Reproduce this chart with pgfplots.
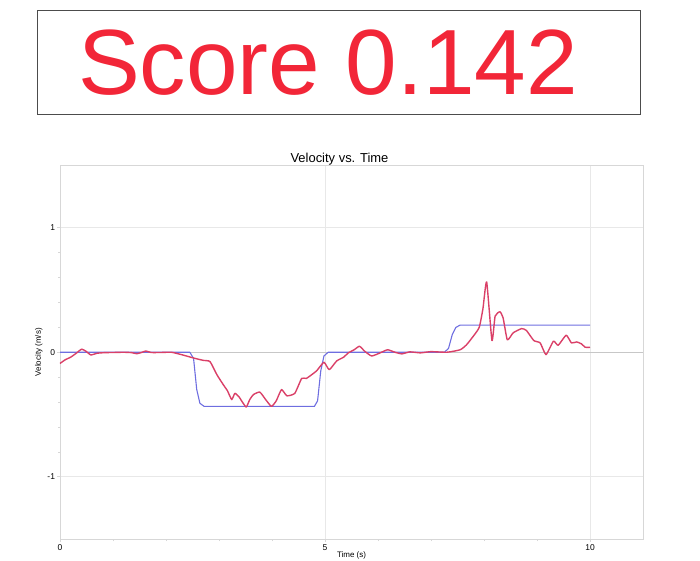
\documentclass[border=0pt]{standalone}
\usepackage{pgfplots}
\pgfplotsset{compat=1.18}
\usepackage{fontspec}
\setmainfont{Liberation Sans}

\definecolor{scorered}{RGB}{242,38,56}
\definecolor{velred}{RGB}{218,64,104}
\definecolor{velblue}{RGB}{110,110,224}
\definecolor{gridgray}{RGB}{232,232,232}
\definecolor{axisgray}{RGB}{215,215,215}

\begin{document}
\begin{tikzpicture}
\path[use as bounding box] (0,0) rectangle (700bp,561bp);

% score banner
\draw[black!70, line width=0.8bp] (37bp,447bp) rectangle (640bp,551bp);
\node[anchor=base, inner sep=0pt, text=scorered,
      font=\fontsize{93}{93}\selectfont] at (328bp,466bp) {Score 0.142};

\begin{axis}[
    at={(60bp,22bp)},
    anchor=south west,
    scale only axis,
    width=583bp,
    height=373.5bp,
    xmin=0, xmax=11,
    ymin=-1.5, ymax=1.5,
    xtick={0,5,10},
    ytick={-1,0,1},
    minor x tick num=4,
    minor y tick num=4,
    xtick pos=bottom,
    ytick pos=left,
    tick align=outside,
    major tick length=3bp,
    minor tick length=2bp,
    tick style={axisgray, line width=0.6bp},
    axis line style={axisgray, line width=0.8bp},
    grid=major,
    major grid style={gridgray, line width=0.8bp},
    xticklabel style={font=\fontsize{8.5}{9}\selectfont, yshift=1bp},
    yticklabel style={font=\fontsize{8.5}{9}\selectfont, xshift=1.5bp},
    /pgf/number format/assume math mode=true,
    xlabel={Time (s)},
    ylabel={Velocity (m/s)},
    xlabel style={font=\fontsize{8}{9}\selectfont, yshift=6bp},
    ylabel style={font=\fontsize{8}{9}\selectfont, yshift=-2bp},
    clip=false,
]

\draw[black!22, line width=0.9bp] (axis cs:0,0) -- (axis cs:11,0);

% target velocity
\addplot[velblue, line width=1.1bp, line join=round] coordinates {
    (0,0) (2.45,0) (2.52,-0.05) (2.58,-0.3) (2.64,-0.41) (2.72,-0.435)
    (4.80,-0.435) (4.86,-0.39) (4.92,-0.15) (4.98,-0.03) (5.06,0)
    (7.25,0) (7.33,0.03) (7.40,0.14) (7.47,0.2) (7.55,0.218) (10,0.218)
};

% measured velocity
\addplot[velred, line width=1.4bp, line join=round, smooth, tension=0.3] coordinates {
    (0.00,-0.09) (0.10,-0.06) (0.20,-0.04) (0.30,-0.01) (0.41,0.025)
    (0.50,0.005) (0.58,-0.022) (0.70,-0.008) (0.85,-0.003) (1.0,-0.002)
    (1.2,0.0) (1.35,-0.003) (1.45,-0.012) (1.55,0.0) (1.62,0.01)
    (1.72,-0.002) (1.9,-0.002) (2.1,0.0) (2.3,-0.02) (2.51,-0.045)
    (2.7,-0.065) (2.83,-0.075) (2.96,-0.18) (3.08,-0.26) (3.16,-0.31)
    (3.24,-0.38) (3.30,-0.33) (3.38,-0.36) (3.51,-0.44) (3.58,-0.38)
    (3.65,-0.34) (3.77,-0.32) (3.88,-0.38) (3.99,-0.435) (4.08,-0.39)
    (4.18,-0.30) (4.28,-0.35) (4.43,-0.33) (4.56,-0.21) (4.65,-0.21)
    (4.84,-0.15) (4.98,-0.08) (5.08,-0.14) (5.22,-0.07) (5.35,-0.04)
    (5.44,-0.005) (5.55,0.02) (5.65,0.048) (5.75,0.008) (5.88,-0.03)
    (6.04,-0.005) (6.18,0.02) (6.32,0.0) (6.45,-0.013) (6.60,0.003)
    (6.8,-0.005) (7.0,0.005) (7.3,0.0) (7.55,0.02) (7.67,0.06)
    (7.80,0.13) (7.91,0.20) (7.98,0.35) (8.05,0.565) (8.15,0.094)
    (8.21,0.29) (8.30,0.325) (8.36,0.277) (8.44,0.10) (8.55,0.156)
    (8.71,0.19) (8.80,0.175) (8.94,0.094) (9.06,0.075) (9.17,-0.019)
    (9.31,0.089) (9.40,0.056) (9.55,0.137) (9.65,0.075) (9.75,0.083)
    (9.84,0.067) (9.91,0.04) (10.0,0.04)
};

\end{axis}

% title
\node[anchor=base, inner sep=0pt, font=\fontsize{13}{14}\selectfont]
    at (339.5bp,398.5bp) {Velocity vs. Time};
\end{tikzpicture}
\end{document}
